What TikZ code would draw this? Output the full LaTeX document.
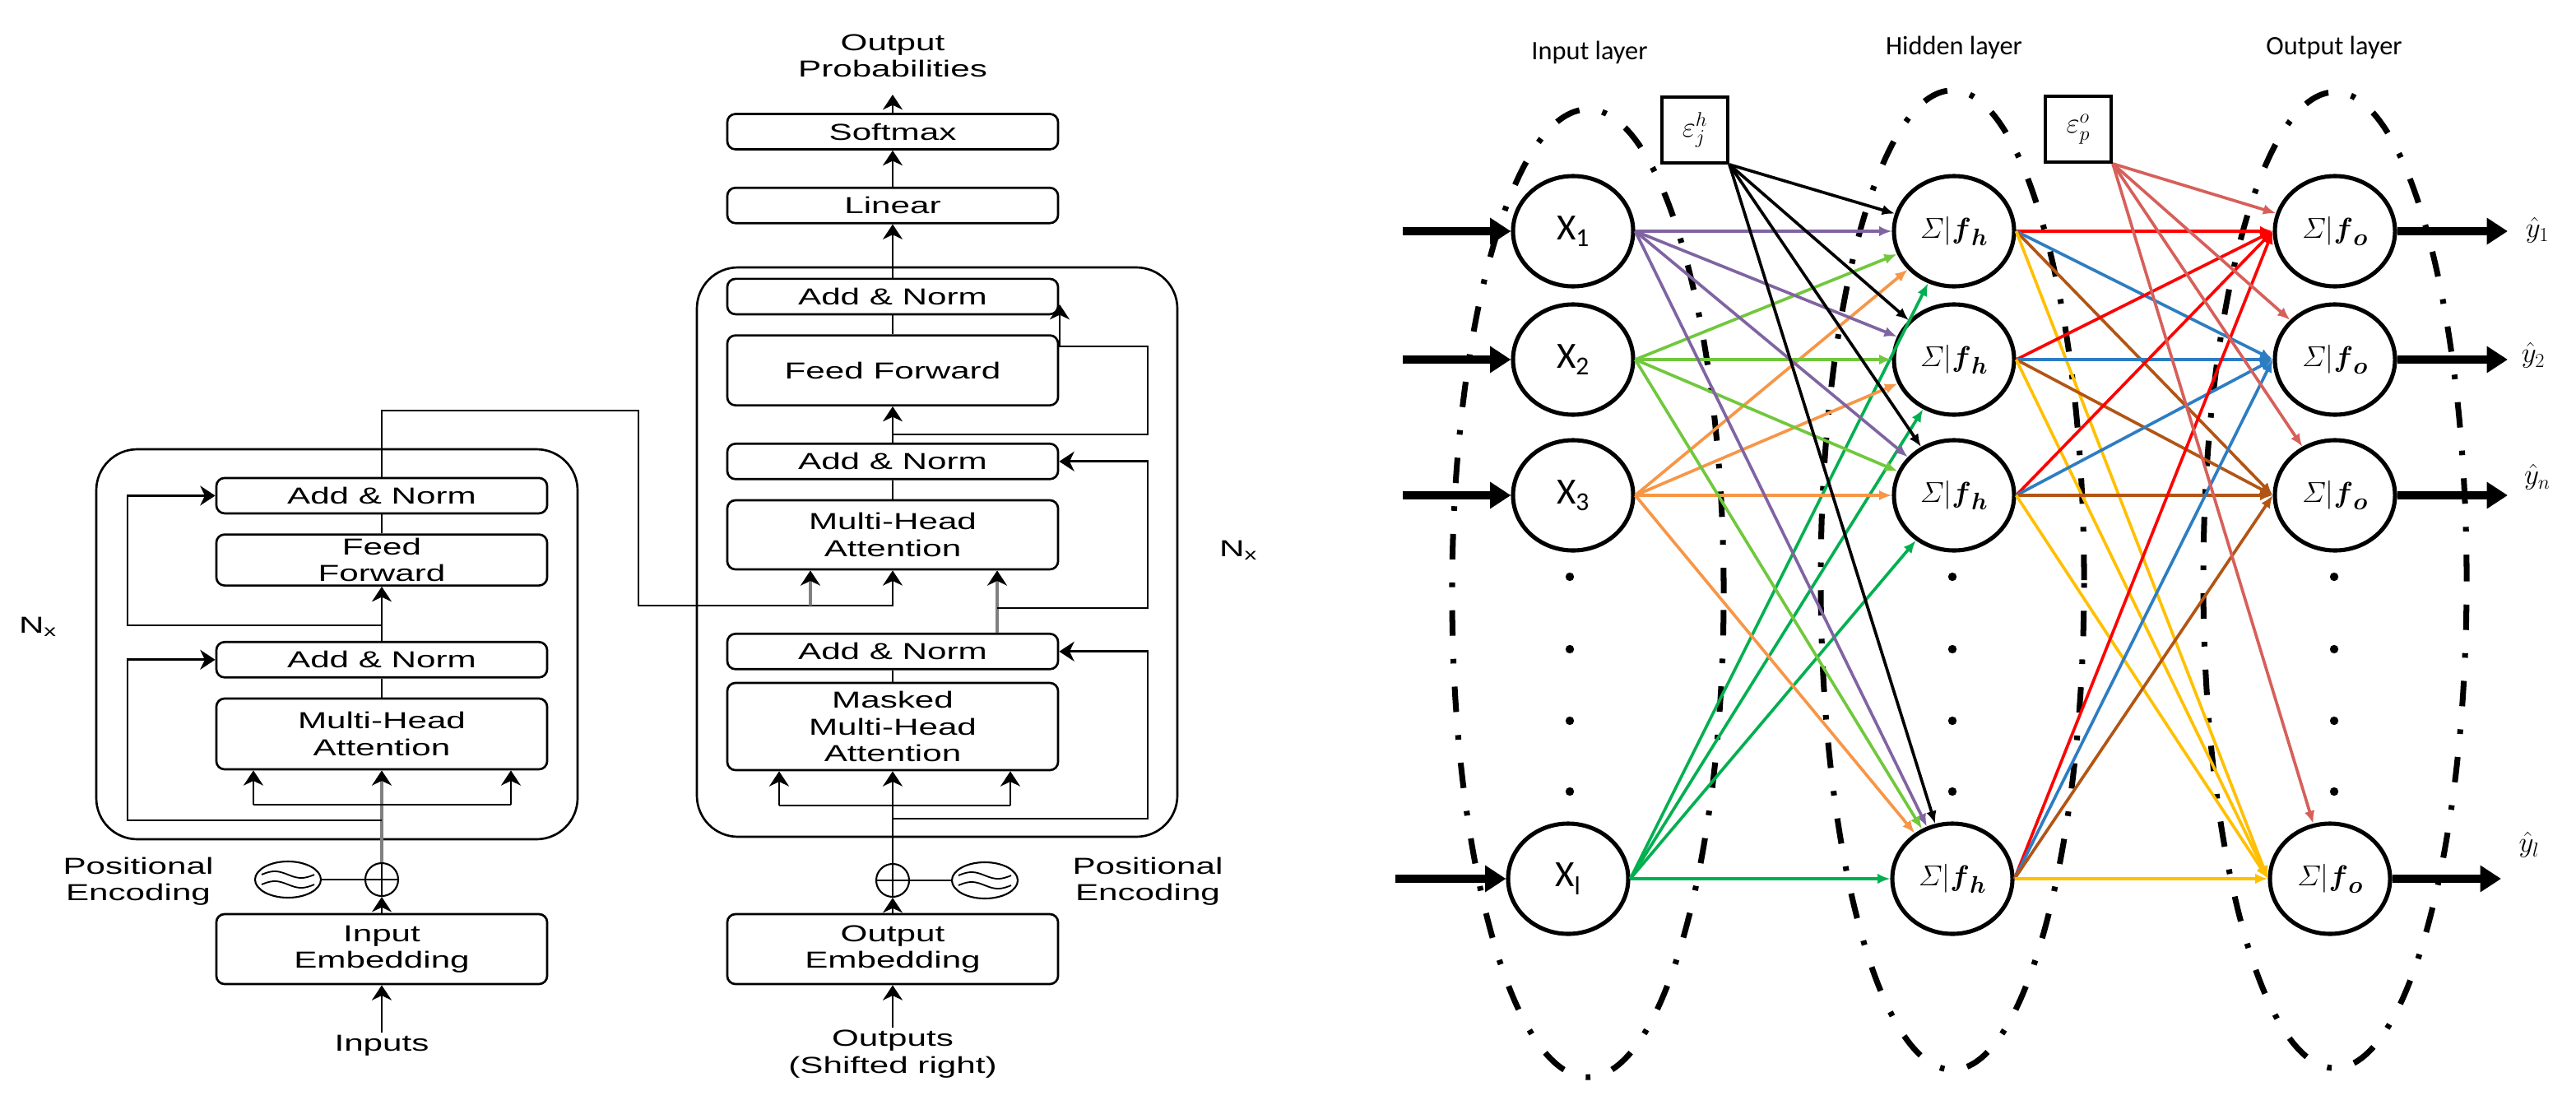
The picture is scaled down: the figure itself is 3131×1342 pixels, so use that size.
\documentclass[tikz,border=0pt]{standalone}
\usepackage{amsmath,amssymb}
\usepackage{fontspec}
\setmainfont{Liberation Sans}
\newfontfamily\tffont[FakeStretch=1.5]{Liberation Sans}
\newfontfamily\nnfont{Carlito}
\usepackage{xcolor}
\usepackage{tikz}
\usetikzlibrary{shapes,arrows.meta,positioning,fit,backgrounds}

\definecolor{wPurple}{RGB}{128,100,162}
\definecolor{wLime}{RGB}{112,200,60}
\definecolor{wOrange}{RGB}{247,150,70}
\definecolor{wGreen}{RGB}{0,176,80}
\definecolor{wRed}{RGB}{255,0,0}
\definecolor{wBlue}{RGB}{45,125,195}
\definecolor{wBrown}{RGB}{178,85,20}
\definecolor{wGold}{RGB}{255,192,0}
\definecolor{wRose}{RGB}{215,95,90}

\begin{document}
\begin{tikzpicture}[
    x=0.025cm, y=-0.025cm,
    block/.style={rectangle, draw, rounded corners=0.25cm, line width=1.9pt, minimum width=10.05cm, minimum height=1.075cm, inner sep=0pt, align=center, font=\tffont\fontsize{20}{23}\selectfont},
    lbl/.style={align=center, inner sep=2pt, font=\tffont\fontsize{20}{23}\selectfont},
    stack/.style={draw, rounded corners=1.25cm, line width=1.9pt},
    arrow/.style={-{Stealth[length=13pt,width=17pt,inset=4pt]}, line width=1.9pt},
    grayarrow/.style={-{Stealth[length=13pt,width=17pt,inset=4pt,color=black]}, line width=2.4pt, draw=gray},
    link/.style={line width=1.9pt},
    oplus/.style={circle, draw, line width=1.5pt, minimum size=1cm, inner sep=0pt, fill=white},
    wave/.style={ellipse, draw, line width=1.5pt, minimum width=2cm, minimum height=1.1cm, inner sep=0pt},
    neuron/.style={ellipse, draw, line width=3.6pt, minimum width=3.65cm, minimum height=3.35cm, inner sep=0pt, fill=white},
    inneuron/.style={neuron, font=\nnfont\fontsize{32}{34}\selectfont},
    sumneuron/.style={neuron, font=\fontsize{28}{30}\selectfont},
    bias/.style={rectangle, draw, line width=2.8pt, minimum size=2cm, inner sep=0pt, fill=white, font=\fontsize{24}{26}\selectfont},
    layer/.style={draw, line width=5pt, dash pattern=on 22pt off 20pt on 4pt off 20pt},
    layername/.style={font=\nnfont\fontsize{23}{26}\selectfont},
    yhat/.style={font=\fontsize{26}{28}\selectfont},
    feed/.style={line width=6.5pt, -{Triangle[length=18pt,width=22pt]}},
    wire/.style={line width=2.6pt, -{Latex[length=11pt,width=9pt]}}
]
\fill[white] (0,0) rectangle (3131,1342);
\useasboundingbox (0,0) rectangle (3131,1342);

\draw[stack] (117,546) rectangle (702,1020);
\node[block, minimum height=2.15cm] (encAttn) at (464,892) {Multi-Head\\Attention};
\node[block, above=0.575cm of encAttn] (encNorm1) {Add \& Norm};
\node[block, minimum height=1.55cm, above=1.65cm of encNorm1] (encFF) {Feed\\Forward};
\node[block, above=0.575cm of encFF] (encNorm2) {Add \& Norm};
\node[block, minimum height=2.125cm] (encEmb) at (464,1153.5) {Input\\Embedding};
\node[oplus] (encAdd) at (464,1069) {};
\node[wave] (encPE) at (350,1069) {};
\node[lbl] (encPELbl) at (168,1071) {Positional\\Encoding};
\node[lbl] (inputs) at (464,1271) {Inputs};
\node[lbl] (encN) at (46,762) {N\textsubscript{x}};

\draw[stack] (847,325) rectangle (1431,1017);
\node[block, minimum height=2.65cm] (decMask) at (1085,883) {Masked\\Multi-Head\\Attention};
\node[block, above=0.35cm of decMask] (decNorm1) {Add \& Norm};
\node[block, minimum height=2.1cm] (decAttn) at (1085,650) {Multi-Head\\Attention};
\node[block, above=0.575cm of decAttn] (decNorm2) {Add \& Norm};
\node[block, minimum height=2.125cm, above=1.1cm of decNorm2] (decFF) {Feed Forward};
\node[block, above=0.575cm of decFF] (decNorm3) {Add \& Norm};
\node[block, above=1.625cm of decNorm3] (linear) {Linear};
\node[block, above=1.1cm of linear] (softmax) {Softmax};
\node[lbl] (outProb) at (1085,68) {Output\\Probabilities};
\node[block, minimum height=2.125cm] (decEmb) at (1085,1153.5) {Output\\Embedding};
\node[oplus] (decAdd) at (1085,1070) {};
\node[wave] (decPE) at (1197,1070) {};
\node[lbl] (decPELbl) at (1395,1071) {Positional\\Encoding};
\node[lbl] (outputs) at (1085,1281) {Outputs\\(Shifted right)};
\node[lbl] (decN) at (1505,669) {N\textsubscript{x}};

\foreach \pe in {encPE,decPE} {
    \draw[line width=1.3pt, shift={(\pe.center)}] plot[domain=-32:32, samples=40, smooth] (\x, {-6+4*sin(5.6*\x)});
    \draw[line width=1.3pt, shift={(\pe.center)}] plot[domain=-32:32, samples=40, smooth] (\x, {6+4*sin(5.6*\x)});
}

\coordinate (encRail) at (155,0);
\coordinate (encQ) at (308,978);
\coordinate (encV) at (621,978);
\coordinate (encSkip1) at (464,997);
\coordinate (encSkip2) at (464,760);
\coordinate (crossUp) at (776,499);
\coordinate (crossDown) at (776,736);
\coordinate (decQ) at (985,736);

\draw[arrow] (inputs) -- (encEmb);
\draw[arrow] (encEmb) -- (encAdd.south);
\draw[link] (encPE) -- (encAdd);
\draw[line width=1.5pt] (encAdd.north) -- (encAdd.south) (encAdd.west) -- (encAdd.east);
\draw[grayarrow] (encAdd) -- (encAttn);
\draw[link] (encQ) -- (encV);
\draw[arrow] (encQ) -- (encQ |- encAttn.south);
\draw[arrow] (encV) -- (encV |- encAttn.south);
\draw[arrow] (encSkip1) -| (encRail |- encNorm1.west) -- (encNorm1.west);
\draw[link] (encAttn) -- (encNorm1);
\draw[arrow] (encNorm1) -- (encFF);
\draw[arrow] (encSkip2) -| (encRail |- encNorm2.west) -- (encNorm2.west);
\draw[link] (encFF) -- (encNorm2);
\draw[arrow] (encNorm2.north) |- (crossUp) -- (crossDown) -| (decAttn.south);
\draw[grayarrow] (decQ) -- (decQ |- decAttn.south);

\coordinate (decRail) at (1395,0);
\coordinate (decQ2) at (947,979);
\coordinate (decV2) at (1228,979);
\coordinate (decSkip1) at (1085,995);
\coordinate (decKV) at (1212,739);
\coordinate (decSkip3) at (1085,528);
\coordinate (decTurn) at (1288,421);
\coordinate (decTip) at (1288,370);
\coordinate (probIn) at (1085,115);

\draw[arrow] (outputs) -- (decEmb);
\draw[arrow] (decEmb) -- (decAdd.south);
\draw[link] (decPE) -- (decAdd);
\draw[line width=1.5pt] (decAdd.north) -- (decAdd.south) (decAdd.west) -- (decAdd.east);
\draw[arrow] (decAdd) -- (decMask);
\draw[link] (decQ2) -- (decV2);
\draw[arrow] (decQ2) -- (decQ2 |- decMask.south);
\draw[arrow] (decV2) -- (decV2 |- decMask.south);
\draw[arrow] (decSkip1) -| (decRail |- decNorm1.east) -- (decNorm1.east);
\draw[link] (decMask) -- (decNorm1);
\draw[grayarrow] (decKV |- decNorm1.north) -- (decKV |- decAttn.south);
\draw[arrow] (decKV) -| (decRail |- decNorm2.east) -- (decNorm2.east);
\draw[link] (decAttn) -- (decNorm2);
\draw[arrow] (decNorm2) -- (decFF);
\draw[arrow] (decSkip3) -| (decRail |- decTurn) -- (decTurn) -- (decTip);
\draw[link] (decFF) -- (decNorm3);
\draw[arrow] (decNorm3) -- (linear);
\draw[arrow] (linear) -- (softmax);
\draw[arrow] (softmax) -- (probIn);

\draw[layer] (1930,721) ellipse [x radius=4.125cm, y radius=14.7cm];
\draw[layer] (2373,705) ellipse [x radius=4cm, y radius=14.875cm];
\draw[layer] (2838,705) ellipse [x radius=4cm, y radius=14.825cm];

\node[layername] (tIn) at (1932,64) {Input layer};
\node[layername] (tHid) at (2375,58) {Hidden layer};
\node[layername] (tOut) at (2837,58) {Output layer};

\node[inneuron] (X1) at (1912,281) {X\textsubscript{1}};
\node[inneuron] (X2) at (1912,437) {X\textsubscript{2}};
\node[inneuron] (X3) at (1912,602) {X\textsubscript{3}};
\node[inneuron] (Xl) at (1906,1068) {X\textsubscript{l}};
\node[sumneuron] (H1) at (2375,281) {$\varSigma|\boldsymbol{f}_{\boldsymbol{h}}$};
\node[sumneuron] (H2) at (2375,437) {$\varSigma|\boldsymbol{f}_{\boldsymbol{h}}$};
\node[sumneuron] (H3) at (2375,602) {$\varSigma|\boldsymbol{f}_{\boldsymbol{h}}$};
\node[sumneuron] (Hl) at (2373,1068) {$\varSigma|\boldsymbol{f}_{\boldsymbol{h}}$};
\node[sumneuron] (O1) at (2838,281) {$\varSigma|\boldsymbol{f}_{\boldsymbol{o}}$};
\node[sumneuron] (O2) at (2838,437) {$\varSigma|\boldsymbol{f}_{\boldsymbol{o}}$};
\node[sumneuron] (O3) at (2838,602) {$\varSigma|\boldsymbol{f}_{\boldsymbol{o}}$};
\node[sumneuron] (Ol) at (2832,1068) {$\varSigma|\boldsymbol{f}_{\boldsymbol{o}}$};
\node[bias] (epsH) at (2060,158) {$\varepsilon_j^h$};
\node[bias] (epsO) at (2526,157) {$\varepsilon_p^o$};

\foreach \y in {701,789,876,962} {
    \fill (1908,\y) circle[radius=0.13cm];
    \fill (2373,\y) circle[radius=0.13cm];
    \fill (2837,\y) circle[radius=0.13cm];
}

\coordinate (in1) at (1705,281);
\coordinate (in2) at (1705,437);
\coordinate (in3) at (1705,602);
\coordinate (inl) at (1696,1068);
\coordinate (out1) at (3048,281);
\coordinate (out2) at (3048,437);
\coordinate (out3) at (3048,602);
\coordinate (outl) at (3040,1068);
\draw[feed] (in1) -- (X1);
\draw[feed] (in2) -- (X2);
\draw[feed] (in3) -- (X3);
\draw[feed] (inl) -- (Xl);
\draw[feed] (O1) -- (out1);
\draw[feed] (O2) -- (out2);
\draw[feed] (O3) -- (out3);
\draw[feed] (Ol) -- (outl);
\node[yhat] (yh1) at (3084,280) {$\hat{y}_1$};
\node[yhat] (yh2) at (3079,432) {$\hat{y}_2$};
\node[yhat] (yhn) at (3084,580) {$\hat{y}_n$};
\node[yhat] (yhl) at (3074,1027) {$\hat{y}_l$};

\foreach \h in {H1,H2,H3,Hl} {
    \draw[wire, wPurple] (X1.east) -- (\h);
    \draw[wire, wLime] (X2.east) -- (\h);
    \draw[wire, wOrange] (X3.east) -- (\h);
    \draw[wire, wGreen] (Xl.east) -- (\h);
    \draw[wire, black] (epsH.south east) -- (\h);
    \draw[wire, wRed] (\h.east) -- (O1.west);
    \draw[wire, wBlue] (\h.east) -- (O2.west);
    \draw[wire, wBrown] (\h.east) -- (O3.west);
    \draw[wire, wGold] (\h.east) -- (Ol.west);
}
\foreach \o in {O1,O2,O3,Ol}
    \draw[wire, wRose] (epsO.south east) -- (\o);
\end{tikzpicture}
\end{document}
